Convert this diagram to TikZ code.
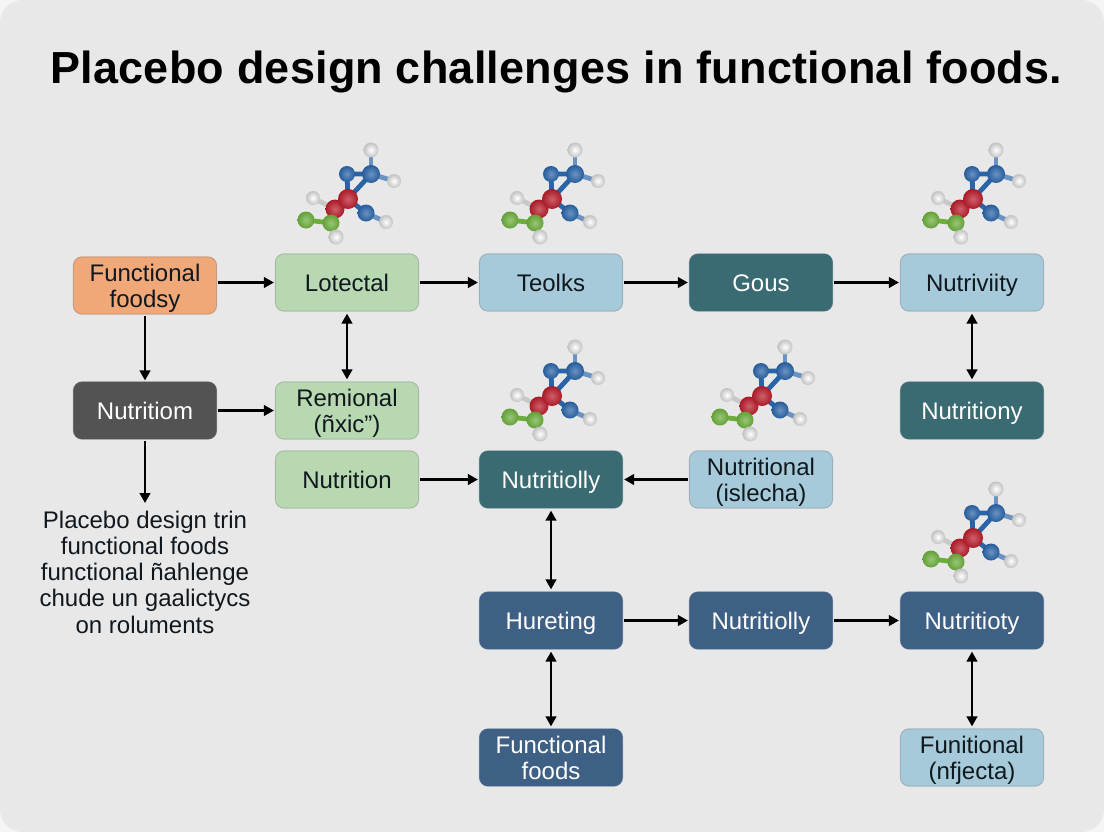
\documentclass[tikz,border=0pt]{standalone}
\usepackage{fontspec}
\setmainfont{Liberation Sans}
\usetikzlibrary{arrows.meta}
\definecolor{bgc}{HTML}{E8E8E9}
\definecolor{cornerc}{HTML}{F5F5F5}
\definecolor{orangec}{HTML}{F0A878}
\definecolor{darkc}{HTML}{535353}
\definecolor{greenc}{HTML}{B8D8B2}
\definecolor{bluec}{HTML}{A6CADA}
\definecolor{tealc}{HTML}{3A6A72}
\definecolor{navyc}{HTML}{3E6085}
\definecolor{inkc}{HTML}{10181E}
\definecolor{mred}{HTML}{B81C2A}
\definecolor{mblue}{HTML}{2A64A8}
\definecolor{mgreen}{HTML}{6CAE3C}
\definecolor{mwhite}{HTML}{C2C2C2}
\definecolor{mbond}{HTML}{C8C8C8}
\newcommand{\topstrut}{\rule{0pt}{18pt}}
\newcommand{\botstrut}{\rule[-5pt]{0pt}{5pt}}
\tikzset{
 x=0.75pt,y=-0.75pt,
 boxbase/.style={rounded corners=6.5pt,minimum width=107.5pt,minimum height=43pt,inner sep=0pt,align=center,font=\fontsize{18}{19.5}\selectfont,draw opacity=.5,line width=.7pt},
 orangebox/.style={boxbase,fill=orangec,draw=orangec!70!black,text=inkc},
 darkbox/.style={boxbase,fill=darkc,draw=darkc,text=white},
 greenbox/.style={boxbase,fill=greenc,draw=greenc!70!black,text=inkc},
 bluebox/.style={boxbase,fill=bluec,draw=bluec!70!black,text=inkc},
 tealbox/.style={boxbase,fill=tealc,draw=tealc,text=white},
 navybox/.style={boxbase,fill=navyc,draw=navyc,text=white},
 conn/.style={line width=1.6pt,-{Triangle[length=7.5pt,width=8pt]},black,shorten <=1pt,shorten >=0.75pt},
 bothconn/.style={line width=1.6pt,{Triangle[length=7.5pt,width=8pt]}-{Triangle[length=7.5pt,width=8pt]},black,shorten <=1.5pt,shorten >=1.5pt},
 plainlabel/.style={align=center,font=\fontsize{18}{19.65}\selectfont,text=inkc,inner sep=0pt},
 bond/.style={line width=3.6pt,draw=#1,line cap=round},
}
\newcommand{\ballat}[4]{\shade[inner color=#1!70!white,outer color=#1!92!black] (#2,#3) circle[radius=#4*0.75pt];}
\newcommand{\hballat}[3]{\shade[inner color=white,middle color=white!92!black,outer color=mwhite] (#1,#2) circle[radius=#3*0.75pt];}
\newcommand{\molecule}[2]{%
 \begin{scope}[shift={(#1,#2)}]
 \draw[bond=mblue] (0,0)--(-1,-25)--(23,-25)--(0,0);
 \draw[bond=mblue] (0,0)--(18,14);
 \draw[bond=mblue!70!white] (23,-25)--(23,-49);
 \draw[bond=mblue!70!white] (23,-25)--(46,-18);
 \draw[bond=mblue!70!white] (18,14)--(38,23);
 \draw[bond=mred] (0,0)--(-13,10);
 \draw[bond=mbond] (-13,10)--(-35,-1);
 \draw[bond=mgreen] (-13,10)--(-17,24)--(-42,21);
 \draw[bond=mbond] (-17,24)--(-12,38);
 \hballat{23}{-49}{7.5}
 \hballat{46}{-18}{7}
 \hballat{38}{23}{7}
 \hballat{-35}{-1}{7}
 \ballat{mblue}{-1}{-25}{8}
 \ballat{mblue}{23}{-25}{9}
 \ballat{mblue}{18}{14}{8.5}
 \ballat{mred}{-13}{10}{9.5}
 \ballat{mred}{0}{0}{10}
 \ballat{mgreen}{-42}{21}{8.5}
 \ballat{mgreen}{-17}{24}{8.5}
 \hballat{-12}{38}{7.5}
 \end{scope}}
\begin{document}
\begin{tikzpicture}
\useasboundingbox (0,0) rectangle (1104,832);
\fill[cornerc] (0,0) rectangle (1104,832);
\fill[bgc,rounded corners=17pt] (0,0) rectangle (1104,832);
\node[anchor=center,font=\fontsize{33.7}{38}\selectfont\addfontfeatures{LetterSpace=0.6}] (title) at (556.5,72) {\textbf{Placebo design challenges in functional foods.}};

\molecule{348}{199}
\molecule{552}{199}
\molecule{973}{199}
\molecule{552}{396}
\molecule{762}{396}
\molecule{973}{538}

\node[orangebox] (a1) at (145,285.5) {\topstrut Functional\\foodsy\botstrut};
\node[greenbox] (a2) at (347,282.5) {\topstrut Lotectal\botstrut};
\node[bluebox] (a3) at (551,282.5) {\topstrut Teolks\botstrut};
\node[tealbox] (a4) at (761,282.5) {\topstrut Gous\botstrut};
\node[bluebox] (a5) at (972,282.5) {\topstrut Nutriviity\botstrut};
\node[darkbox] (b1) at (145,410.5) {\topstrut Nutritiom\botstrut};
\node[greenbox] (b2) at (347,410.5) {\topstrut Remional\\(ñxic”)\botstrut};
\node[tealbox] (b5) at (972,410.5) {\topstrut Nutritiony\botstrut};
\node[greenbox] (c2) at (347,479.5) {\topstrut Nutrition\botstrut};
\node[tealbox] (c3) at (551,479.5) {\topstrut Nutritiolly\botstrut};
\node[bluebox] (c4) at (761,479.5) {\topstrut Nutritional\\(islecha)\botstrut};
\node[navybox] (d3) at (551,620.5) {\topstrut Hureting\botstrut};
\node[navybox] (d4) at (761,620.5) {\topstrut Nutritiolly\botstrut};
\node[navybox] (d5) at (972,620.5) {\topstrut Nutritioty\botstrut};
\node[navybox] (e3) at (551,757.5) {\topstrut Functional\\foods\botstrut};
\node[bluebox] (e5) at (972,757.5) {\topstrut Funitional\\(nfjecta)\botstrut};
\node[plainlabel] (txt) at (145,572) {\topstrut Placebo design trin\\functional foods\\functional ñahlenge\\chude un gaalictycs\\on roluments\botstrut};

\draw[conn] (a1.east |- a2.west) -- (a2.west);
\draw[conn] (a2) -- (a3);
\draw[conn] (a3) -- (a4);
\draw[conn] (a4) -- (a5);
\draw[conn] (b1) -- (b2);
\draw[conn] (a1) -- (b1);
\draw[conn] (b1) -- (txt.north);
\draw[bothconn] (a2) -- (b2);
\draw[bothconn] (a5) -- (b5);
\draw[conn] (c2) -- (c3);
\draw[conn] (c4) -- (c3);
\draw[bothconn] (c3) -- (d3);
\draw[conn] (d3) -- (d4);
\draw[conn] (d4) -- (d5);
\draw[bothconn] (d3) -- (e3);
\draw[bothconn] (d5) -- (e5);
\end{tikzpicture}
\end{document}
